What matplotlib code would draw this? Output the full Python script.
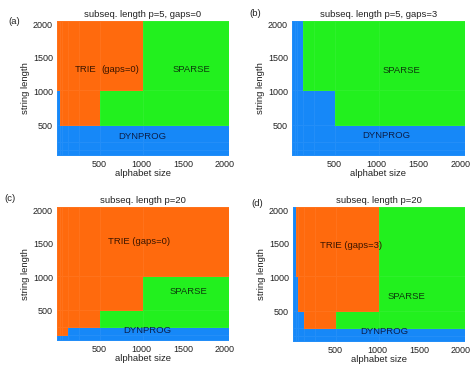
import numpy as np
import matplotlib
matplotlib.use("Agg")
import matplotlib.pyplot as plt
from matplotlib.colors import ListedColormap

plt.rcParams['font.family'] = ['Liberation Sans', 'DejaVu Sans']

## grid of alphabet sizes / string lengths (cell edges)
alpha_edges = [0, 32, 64, 128, 256, 512, 1024, 2048]
len_edges = [32, 64, 128, 256, 512, 1024, 2048]

## best method per cell: 0 = DYNPROG, 1 = TRIE, 2 = SPARSE
## rows = string length cells (bottom to top), cols = alphabet cells
best_a = [[0, 0, 0, 0, 0, 0, 0],
          [0, 0, 0, 0, 0, 0, 0],
          [0, 0, 0, 0, 0, 0, 0],
          [0, 0, 0, 0, 0, 0, 0],
          [0, 1, 1, 1, 1, 2, 2],
          [1, 1, 1, 1, 1, 1, 2]]
best_b = [[0, 0, 0, 0, 0, 0, 0],
          [0, 0, 0, 0, 0, 0, 0],
          [0, 0, 0, 0, 0, 0, 0],
          [0, 0, 0, 0, 0, 0, 0],
          [0, 0, 0, 0, 0, 2, 2],
          [0, 0, 0, 2, 2, 2, 2]]
best_c = [[0, 0, 0, 0, 0, 0, 0],
          [0, 0, 0, 0, 0, 0, 0],
          [1, 1, 1, 0, 0, 0, 0],
          [1, 1, 1, 1, 1, 2, 2],
          [1, 1, 1, 1, 1, 1, 2],
          [1, 1, 1, 1, 1, 1, 1]]
best_d = [[0, 0, 0, 0, 0, 0, 0],
          [0, 0, 0, 0, 0, 0, 0],
          [0, 0, 0, 0, 0, 0, 0],
          [0, 0, 0, 1, 1, 2, 2],
          [0, 0, 1, 1, 1, 1, 2],
          [0, 1, 1, 1, 1, 1, 2]]

titles = ["subseq. length p=5, gaps=0", "subseq. length p=5, gaps=3",
          "subseq. length p=20", "subseq. length p=20"]
panel_tags = ["(a)", "(b)", "(c)", "(d)"]

## region labels: (text, x, y)
labels_a = [("TRIE", 345, 1330), ("(gaps=0)", 750, 1330),
            ("SPARSE", 1595, 1330), ("DYNPROG", 1010, 330)]
labels_b = [("SPARSE", 1290, 1310), ("DYNPROG", 1120, 350)]
labels_c = [("TRIE (gaps=0)", 975, 1530), ("SPARSE", 1560, 790),
            ("DYNPROG", 1080, 200)]
labels_d = [("TRIE (gaps=3)", 690, 1480), ("SPARSE", 1345, 720),
            ("DYNPROG", 1085, 205)]

cmap = ListedColormap(['#1688f8', '#ff6a0d', '#22f01e'])
text_col = {"DYNPROG": '#0b1f4a', "SPARSE": '#0c3a0c'}

W, H = 474, 366
fig = plt.figure(figsize=(W/100, H/100), dpi=100)

## axes boxes in pixels: left, top, right, bottom
boxes = [(57, 21, 229, 156), (292, 21, 465, 156),
         (57, 207, 229, 341), (293, 207, 465, 342)]
tag_pos = [(14, 22), (255, 14), (10, 198), (257, 204)]

data = [best_a, best_b, best_c, best_d]
labels = [labels_a, labels_b, labels_c, labels_d]

for i in range(4):
    l, t, r, b = boxes[i]
    ax = fig.add_axes([l/W, 1-b/H, (r-l)/W, (b-t)/H])
    ax.pcolormesh(alpha_edges, len_edges, np.array(data[i]), cmap=cmap,
                  vmin=-0.5, vmax=2.5, edgecolors=(1, 1, 1, 0.06), linewidth=0.4)
    ax.set_xlim(0, 2048)
    ax.set_ylim(45, 2048)
    ax.set_xticks([500, 1000, 1500, 2000])
    ax.set_yticks([500, 1000, 1500, 2000])
    ax.tick_params(length=0, labelsize=6.5, pad=3, colors='#222222')
    for s in ax.spines.values():
        s.set_visible(False)
    ax.set_title(titles[i], fontsize=6.8, pad=3, color='#222222')
    ax.set_xlabel("alphabet size", fontsize=6.8, labelpad=0, color='#222222')
    ax.set_ylabel("string length", fontsize=6.8, labelpad=2, color='#222222')
    for txt, x, y in labels[i]:
        col = text_col.get(txt, '#3a1500')
        ax.text(x, y, txt, ha='center', va='center', fontsize=6.8, color=col)
    fig.text(tag_pos[i][0]/W, 1-tag_pos[i][1]/H, panel_tags[i], fontsize=6.8,
             ha='center', va='center', color='#222222')

fig.savefig("out.png", dpi=100)
